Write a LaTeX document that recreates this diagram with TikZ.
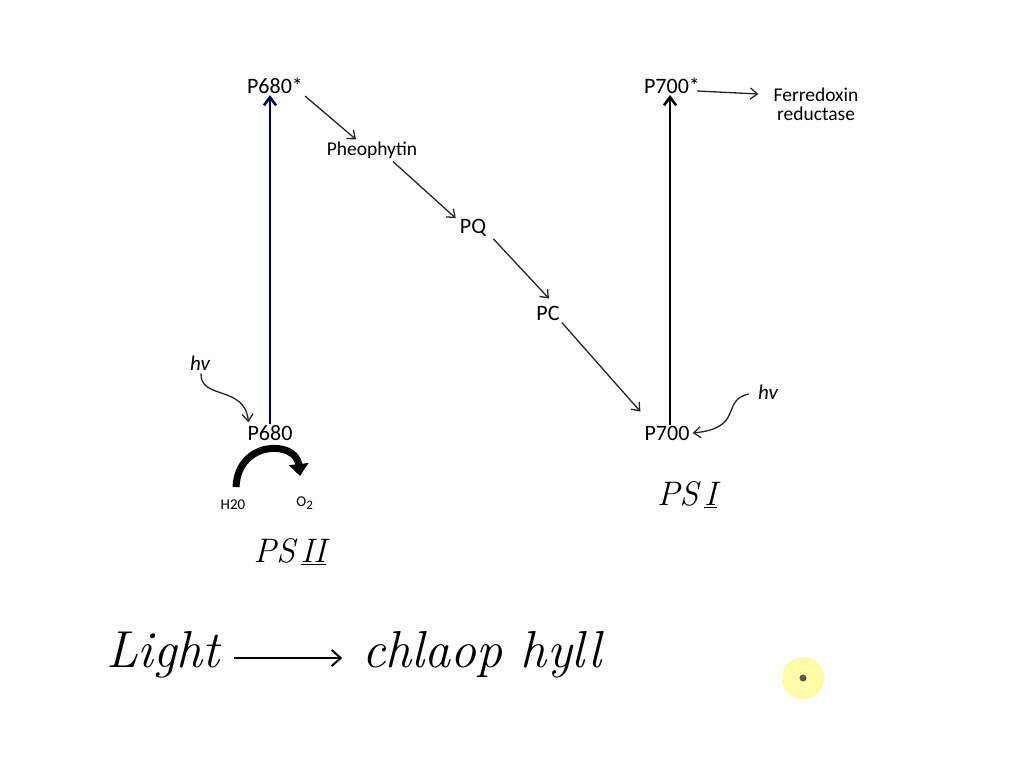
\documentclass[tikz,border=0pt]{standalone}
\usepackage{fontspec}
\setmainfont{Carlito}
\newfontfamily\handfont{Latin Modern Roman}
\usetikzlibrary{arrows.meta,calc}
\begin{document}
\begin{tikzpicture}[x=1pt,y=-1pt,
  lbl/.style={font=\fontsize{22}{26}\selectfont,inner sep=1pt},
  slbl/.style={font=\fontsize{19.5}{22}\selectfont,inner sep=1pt},
  tiny/.style={font=\fontsize{15}{18}\selectfont,inner sep=1pt},
  hvl/.style={font=\fontsize{21}{24}\selectfont\itshape,inner sep=1pt},
  hand/.style={font=\handfont\itshape,inner sep=0pt},
  thin arrow/.style={draw=black!85,line width=1.3pt,-{Straight Barb[length=7pt,width=11pt]}},
  thick arrow/.style={line width=2.6pt,-{Straight Barb[length=8pt,width=12pt]}}]
\useasboundingbox (0,0) rectangle (1024,768);
\fill[white] (0,0) rectangle (1024,768);

% nodes
\node[lbl] (p680s) at (275,86) {P680*};
\node[slbl] (pheo) at (372,150) {Pheophytin};
\node[lbl] (pq) at (473,228) {PQ};
\node[lbl] (pc) at (548,313) {PC};
\node[lbl] (p700) at (667,433) {P700};
\node[lbl] (p700s) at (672,86) {P700*};
\node[slbl,align=center] (fer) at (816,104) {Ferredoxin\\[-3pt]reductase};
\node[lbl] (p680) at (270,433) {P680};
\node[hvl] (hv1) at (200,363) {hv};
\node[hvl] (hv2) at (768,392) {hv};
\node[tiny] (h2o) at (233,505) {H20};
\node[tiny] (o2) at (305,503) {O\textsubscript{\fontsize{13}{14}\selectfont 2}};

% handwritten
\node[hand,font=\handfont\itshape\fontsize{34}{38}\selectfont] (ps2) at (290,552) {PS\,\underline{II}};
\node[hand,font=\handfont\itshape\fontsize{34}{38}\selectfont] (ps1) at (687,495) {PS\,\underline{I}};
\node[hand,font=\handfont\itshape\fontsize{52}{56}\selectfont] (light) at (163,655) {Light};
\node[hand,font=\handfont\itshape\fontsize{52}{56}\selectfont] (chl) at (482,655) {chlaop hyll};
\draw[line width=2pt,-{Straight Barb[length=9pt,width=16pt]}] ($(light.east)+(14,3)$) -- ($(chl.west)+(-20,3)$);

% vertical excitation arrows
\coordinate (p700base) at ($(p700.north)+(3,0)$);
\draw[thick arrow,draw=blue!35!black] (p680.north) -- (p680.north |- p680s.south);
\draw[thick arrow,draw=black] (p700base) -- (p700base |- p700s.south);

% electron transport chain
\draw[thin arrow] ($(p680s.south east)+(1,1)$) -- ($(pheo.north)+(-16,-1)$);
\draw[thin arrow] ($(pheo.south)+(21,2)$) -- ($(pq.north west)+(-3,0)$);
\draw[thin arrow] ($(pq.south east)+(6,1)$) -- ($(pc.north)+(1,-6)$);
\draw[thin arrow] ($(pc.south east)+(1,1)$) -- ($(p700.north west)+(-3,-13)$);
\draw[thin arrow] ($(p700s.east)+(-4,5)$) -- ($(fer.west)+(-14,-10)$);

% light input
\draw[thin arrow] ($(hv1.south)+(1,2)$) .. controls (200,400) and (245,385) .. ($(p680.north west)+(2,-2)$);
\draw[thin arrow] ($(hv2.west)+(-8,2)$) .. controls (720,400) and (745,428) .. ($(p700.east)+(2,0)$);

% water splitting
\draw[line width=7pt,-{Triangle[length=12pt,width=19pt]}] (236,487) .. controls (238,440) and (296,440) .. (300,476);

% cursor highlight
\fill[yellow!35] (803,678) circle (21);
\fill[black!65] (803,678) circle (3.5);
\end{tikzpicture}
\end{document}
